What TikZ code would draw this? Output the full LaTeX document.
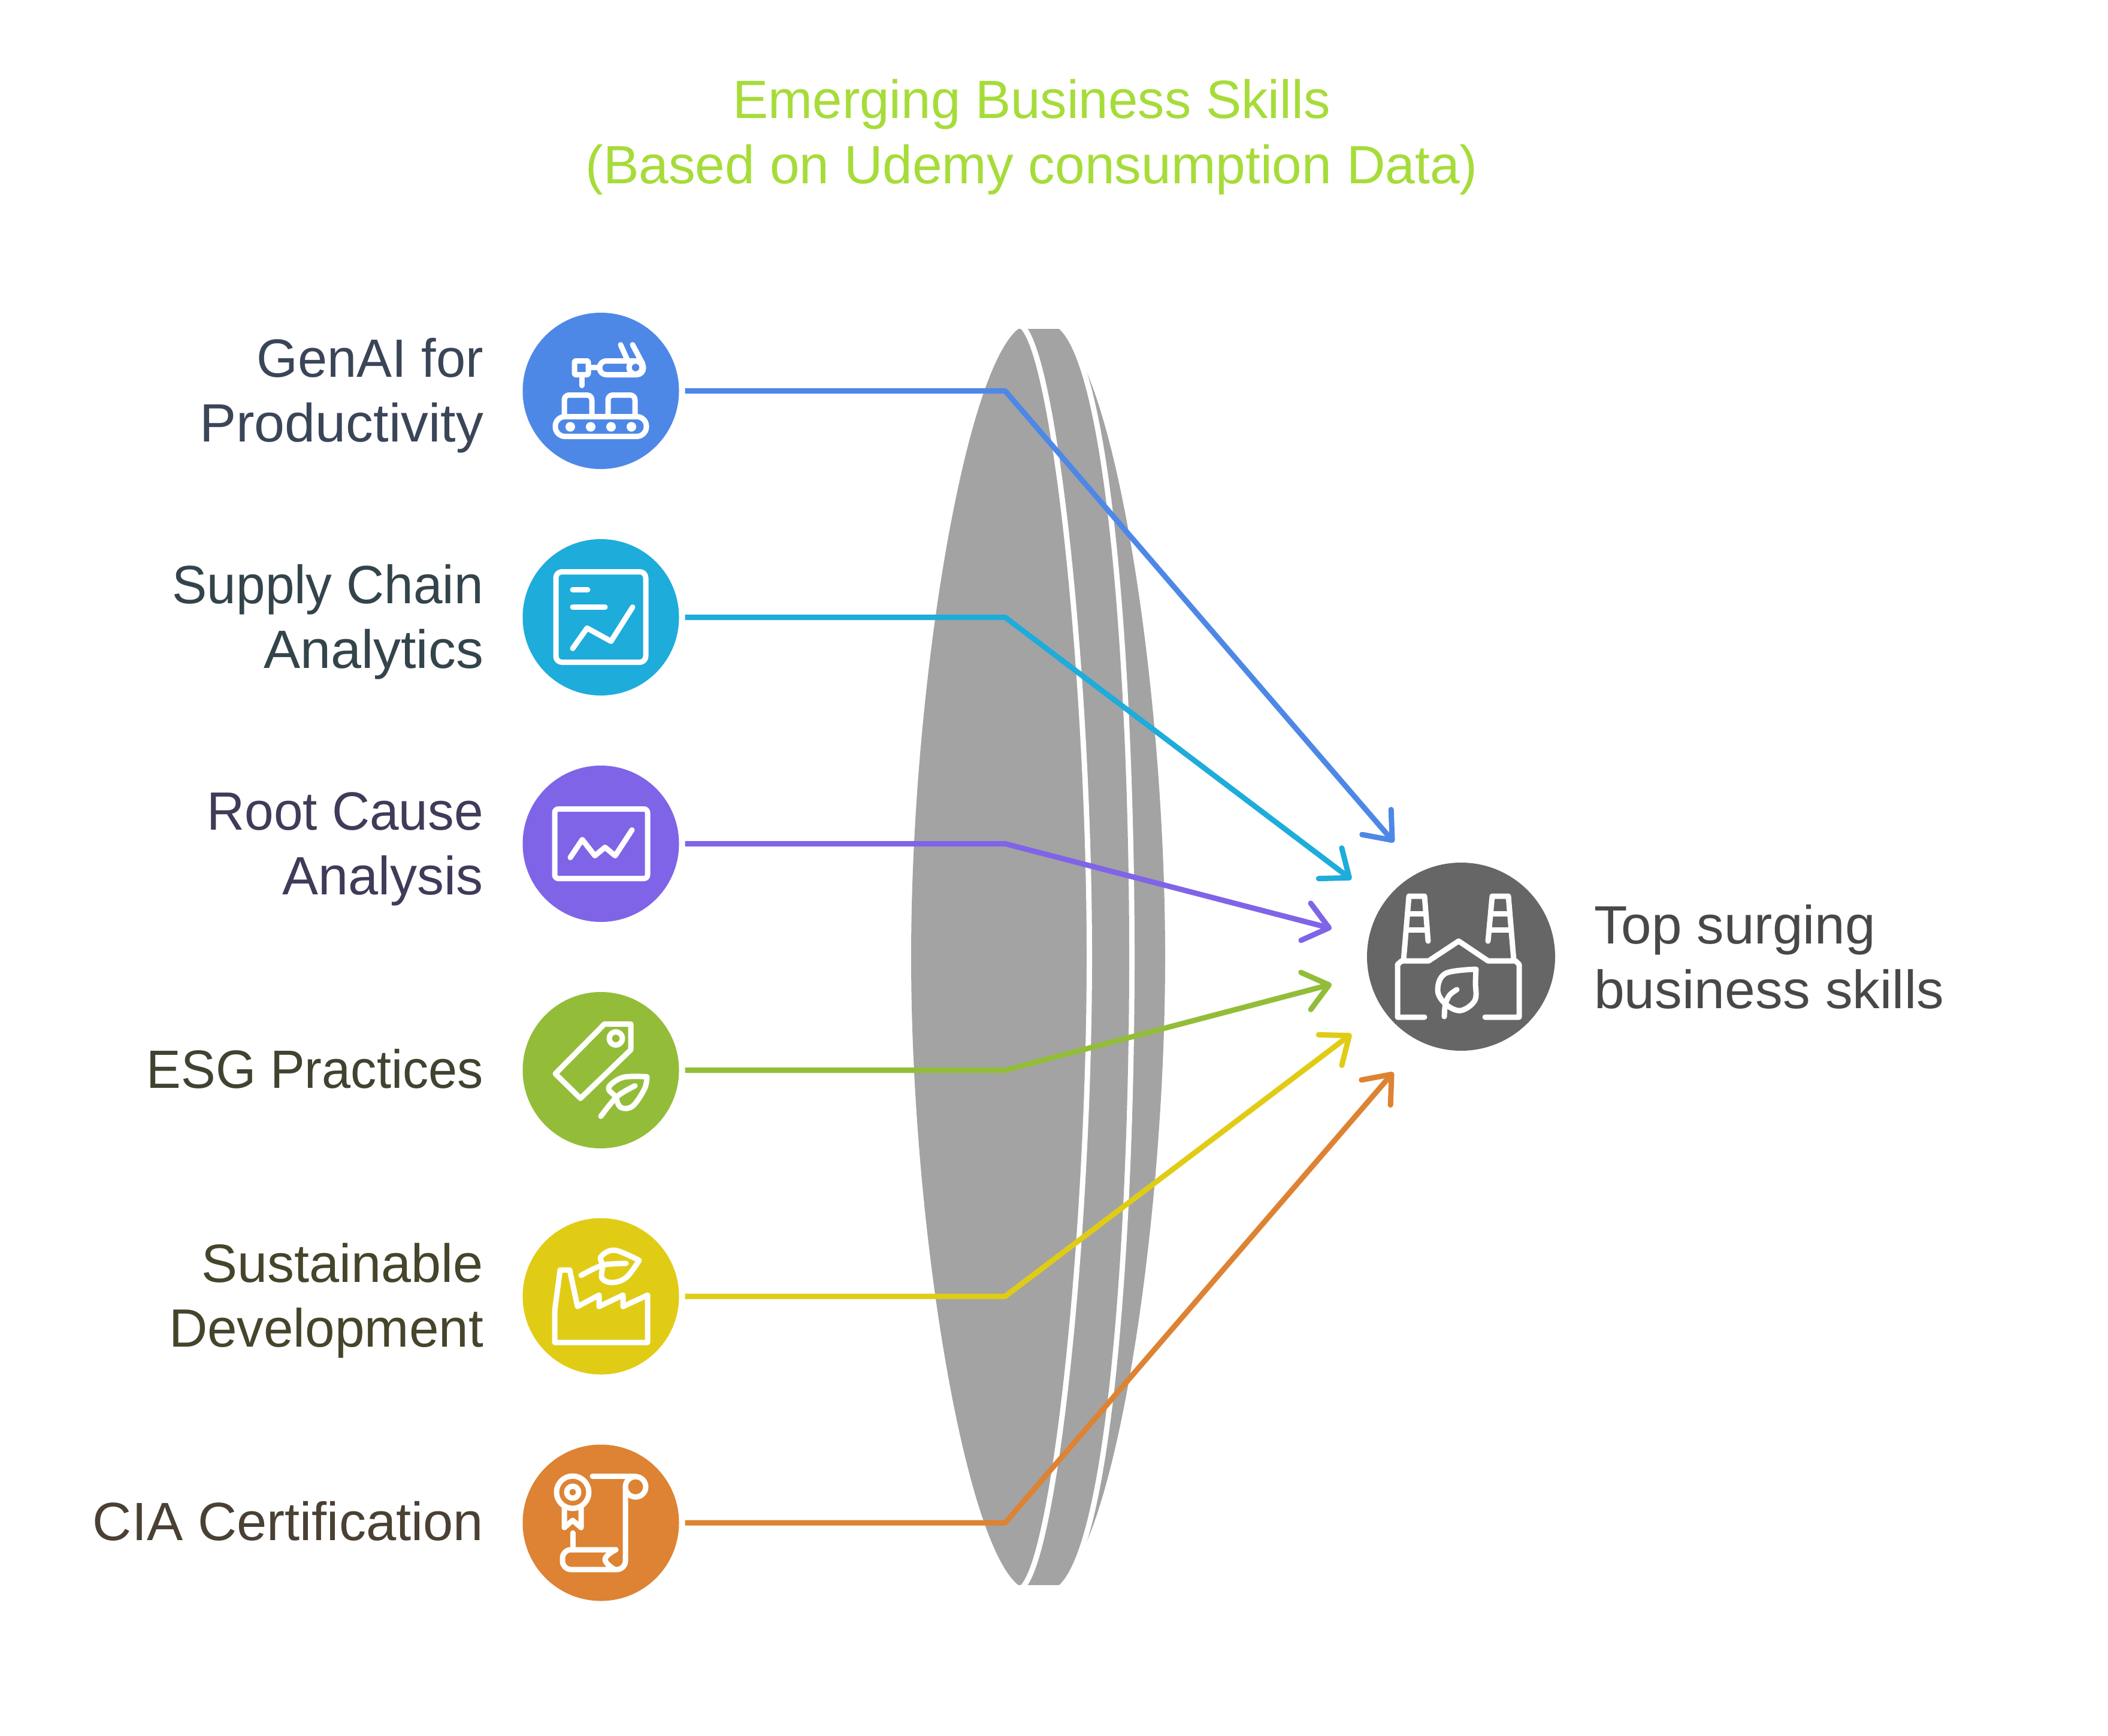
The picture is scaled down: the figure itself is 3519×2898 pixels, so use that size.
\documentclass[tikz,border=0pt]{standalone}
\usepackage{graphicx}
\usepackage{fontspec}
\setmainfont{Liberation Sans}
\usetikzlibrary{arrows.meta}
\definecolor{cBlue}{HTML}{4E88E7}
\definecolor{cCyan}{HTML}{1EACDB}
\definecolor{cPurple}{HTML}{8064E8}
\definecolor{cGreen}{HTML}{93BD39}
\definecolor{cYellow}{HTML}{E0CC15}
\definecolor{cOrange}{HTML}{DD8333}
\definecolor{cHub}{HTML}{666666}
\definecolor{cLens}{HTML}{A3A3A3}
\definecolor{cTitle}{HTML}{A6DC39}
\definecolor{tBlue}{HTML}{3B4558}
\definecolor{tCyan}{HTML}{33444B}
\definecolor{tPurple}{HTML}{3F3B59}
\definecolor{tGreen}{HTML}{3F4430}
\definecolor{tYellow}{HTML}{46442A}
\definecolor{tOrange}{HTML}{4A4033}
\definecolor{tHub}{HTML}{484848}
\newcommand{\lw}[2]{\scalebox{#1}[1]{#2}}
\tikzset{
  disc/.style={circle,minimum size=261pt,inner sep=0pt,draw=none},
  conn/.style={line width=9pt,line join=round,shorten <=10pt,-{Straight Barb[round,length=40pt,width=64pt]}},
  icon/.style={draw=white,line width=9pt,line cap=round,line join=round},
  lbl/.style={inner sep=0pt,outer sep=0pt,font=\fontsize{90}{108}\selectfont},
  gap/.style={draw=white,line width=9pt}
}
\begin{document}
\begin{tikzpicture}[x=1pt,y=-1pt]
\useasboundingbox (0,0) rectangle (3519,2898);
\fill[white] (0,0) rectangle (3519,2898);
% lens
\fill[cLens] (1768,549) .. controls (1862,620) and (1945,1150) .. (1945,1597.5) .. controls (1945,2045) and (1862,2575) .. (1768,2646) -- cycle;
\path[fill=white,draw=white,line width=18pt] (1768,549) .. controls (1850,625) and (1885,1150) .. (1885,1597.5) .. controls (1885,2045) and (1850,2570) .. (1768,2646) -- cycle;
\fill[cLens] (1700,549) -- (1768,549) .. controls (1850,625) and (1885,1150) .. (1885,1597.5) .. controls (1885,2045) and (1850,2570) .. (1768,2646) -- (1700,2646) .. controls (1610,2575) and (1521,2045) .. (1521,1597.5) .. controls (1521,1150) and (1610,620) .. (1700,549) -- cycle;
\draw[gap] (1683,513.5) -- (1710,549) .. controls (1764,620) and (1818.5,1150) .. (1818.5,1597.5) .. controls (1818.5,2045) and (1764,2575) .. (1710,2646) -- (1683,2681.5);
% discs
\node[disc,fill=cBlue] (c1) at (1003,652.5) {};
\node[disc,fill=cCyan] (c2) at (1003,1030.5) {};
\node[disc,fill=cPurple] (c3) at (1003,1408.5) {};
\node[disc,fill=cGreen] (c4) at (1003,1786.5) {};
\node[disc,fill=cYellow] (c5) at (1003,2164) {};
\node[disc,fill=cOrange] (c6) at (1003,2542) {};
\node[disc,minimum size=314pt,fill=cHub] (hub) at (2439,1597) {};
% connector points
\coordinate (b1) at (1678,652.5);
\coordinate (b2) at (1678,1030.5);
\coordinate (b3) at (1678,1408.5);
\coordinate (b4) at (1678,1786.5);
\coordinate (b5) at (1678,2164);
\coordinate (b6) at (1678,2542);
\coordinate (t1) at ([shift={(-112,-191)}]hub.center);
\coordinate (t2) at ([shift={(-183,-129)}]hub.center);
\coordinate (t3) at ([shift={(-216,-47)}]hub.center);
\coordinate (t4) at ([shift={(-216,46)}]hub.center);
\coordinate (t5) at ([shift={(-183,129)}]hub.center);
\coordinate (t6) at ([shift={(-113,193)}]hub.center);
\draw[conn,draw=cBlue] (c1.east) -- (b1) -- (t1);
\draw[conn,draw=cCyan] (c2.east) -- (b2) -- (t2);
\draw[conn,draw=cPurple] (c3.east) -- (b3) -- (t3);
\draw[conn,draw=cGreen] (c4.east) -- (b4) -- (t4);
\draw[conn,draw=cYellow] (c5.east) -- (b5) -- (t5);
\draw[conn,draw=cOrange] (c6.east) -- (b6) -- (t6);
% text
\node[lbl,text=cTitle,anchor=base] (title1) at (1722,197) {\lw{.987}{Emerging Business Skills}};
\node[lbl,text=cTitle,anchor=base] (title2) at (1722,306) {\lw{.9925}{(Based on Udemy consumption Data)}};
\node[lbl,text=tBlue,anchor=base east] (l1a) at (807,629.5) {\lw{.982}{GenAI for}};
\node[lbl,text=tBlue,anchor=base east] (l1b) at (807,737) {\lw{1.019}{Productivity}};
\node[lbl,text=tCyan,anchor=base east] (l2a) at (807,1007.5) {\lw{.97}{Supply Chain}};
\node[lbl,text=tCyan,anchor=base east] (l2b) at (807,1115) {\lw{1.019}{Analytics}};
\node[lbl,text=tPurple,anchor=base east] (l3a) at (807,1385.5) {\lw{.971}{Root Cause}};
\node[lbl,text=tPurple,anchor=base east] (l3b) at (807,1493) {Analysis};
\node[lbl,text=tGreen,anchor=base east] (l4) at (807,1816.5) {\lw{.961}{ESG Practices}};
\node[lbl,text=tYellow,anchor=base east] (l5a) at (807,2140.5) {Sustainable};
\node[lbl,text=tYellow,anchor=base east] (l5b) at (807,2248) {\lw{.99}{Development}};
\node[lbl,text=tOrange,anchor=base east] (l6) at (807,2571.5) {\lw{1.003}{CIA Certification}};
\node[lbl,text=tHub,anchor=base west] (r1) at (2661,1575) {\lw{1.01}{Top surging}};
\node[lbl,text=tHub,anchor=base west] (r2) at (2661,1683) {\lw{1.016}{business skills}};
% icon 1: robot arm and conveyor
\begin{scope}[shift={(c1.center)}]
\draw[icon,rounded corners=16pt] (-76,43) rectangle (76,76);
\foreach \q in {-51,-17,17,51} \fill[white] (\q,60) circle[radius=8];
\draw[icon,rounded corners=8pt] (-61,43) -- (-61,7) -- (-15,7) -- (-15,43);
\draw[icon,rounded corners=8pt] (12,43) -- (12,7) -- (57,7) -- (57,43);
\draw[icon,rounded corners=2pt] (-44,-50) rectangle (-21,-27);
\draw[icon] (-32,-27) -- (-32,-9);
\draw[icon] (-21,-39) -- (-3,-39);
\draw[icon,rounded corners=11pt] (-2,-50) rectangle (71,-27);
\draw[icon] (58,-39) circle[radius=11];
\draw[icon] (33,-77) -- (45,-50);
\draw[icon] (53,-77) -- (70,-45);
\end{scope}
% icon 2: chart board
\begin{scope}[shift={(c2.center)}]
\draw[icon,rounded corners=10pt] (-75,-76) rectangle (75,75);
\draw[icon] (-47,-46) -- (-22,-46);
\draw[icon] (-47,-17) -- (7,-17);
\draw[icon] (-47,52) -- (-23,18) -- (17,40) -- (53,-17);
\end{scope}
% icon 3: monitor chart
\begin{scope}[shift={(c3.center)}]
\draw[icon,rounded corners=6pt] (-77,-58) rectangle (78,58);
\draw[icon] (-51,23) -- (-31,-7) -- (-10,20) -- (7,6) -- (24,20) -- (52,-23);
\end{scope}
% icon 4: tag and leaf
\begin{scope}[shift={(c4.center)}]
\draw[icon] (-76,6) -- (6,-77) -- (50,-77) -- (50,-34) -- (-34,47) -- cycle;
\draw[icon] (25,-53) circle[radius=11];
\draw[icon] plot[smooth,tension=.6] coordinates {(77,11) (37,12) (13,29) (24,44) (33,62) (53,60) (73,31) (77,11)};
\draw[icon] plot[smooth,tension=.5] coordinates {(0,77) (27,44) (57,26)};
\end{scope}
% icon 5: factory and leaf
\begin{scope}[shift={(c5.center)}]
\draw[icon] (-77,77) -- (-77,24) -- (-68,-44) -- (-52,-44) -- (-39,17) -- (-3,-2) -- (-3,17) -- (37,-2) -- (37,17) -- (78,-2) -- (78,77) -- cycle;
\draw[icon] plot[smooth,tension=.6] coordinates {(64,-60) (23,-77) (0,-66) (3,-52) (2,-30) (20,-23) (43,-32) (64,-60)};
\draw[icon] plot[smooth,tension=.5] coordinates {(-33,-35) (3,-52) (42,-55)};
\end{scope}
% icon 6: certificate scroll
\begin{scope}[shift={(c6.center)}]
\draw[icon] (-47,-51) circle[radius=27];
\draw[icon] (-47,-51) circle[radius=10];
\draw[icon] (-61,-26) -- (-61,8) -- (-47,-4) -- (-33,8) -- (-33,-26);
\draw[icon] (-14,-78) -- (58,-78);
\draw[icon] (58,-60) circle[radius=17];
\draw[icon,rounded corners=14pt] (41,-60) -- (41,78) -- (-64,78) -- (-64,45) -- (25,45);
\draw[icon] (-47,17) -- (-47,45);
\draw[icon] plot[smooth,tension=.8] coordinates {(25,45) (7,61) (23,78)};
\end{scope}
% hub icon: factory with leaf
\begin{scope}[shift={(hub.center)}]
\draw[icon] (-96,6) -- (-87,-101) -- (-61,-101) -- (-55,-26);
\draw[icon] (-89,-72) -- (-59,-72);
\draw[icon] (-91,-45) -- (-57,-45);
\draw[icon] (45,-26) -- (52,-101) -- (79,-101) -- (88,6);
\draw[icon] (50,-72) -- (80,-72);
\draw[icon] (48,-45) -- (83,-45);
\draw[icon] (-61,101) -- (-106,101) -- (-106,13) -- (-99,7) -- (-54,7) -- (-4,-26) -- (45,7) -- (91,7) -- (97,13) -- (97,101) -- (40,101);
\draw[icon] plot[smooth,tension=.6] coordinates {(25,21) (-26,28) (-39,56) (-26,79) (-1,90) (23,73) (24,43) (25,21)};
\draw[icon] plot[smooth,tension=.6] coordinates {(-28,100) (-26,79) (-19,64) (-7,55)};
\end{scope}
\end{tikzpicture}
\end{document}
